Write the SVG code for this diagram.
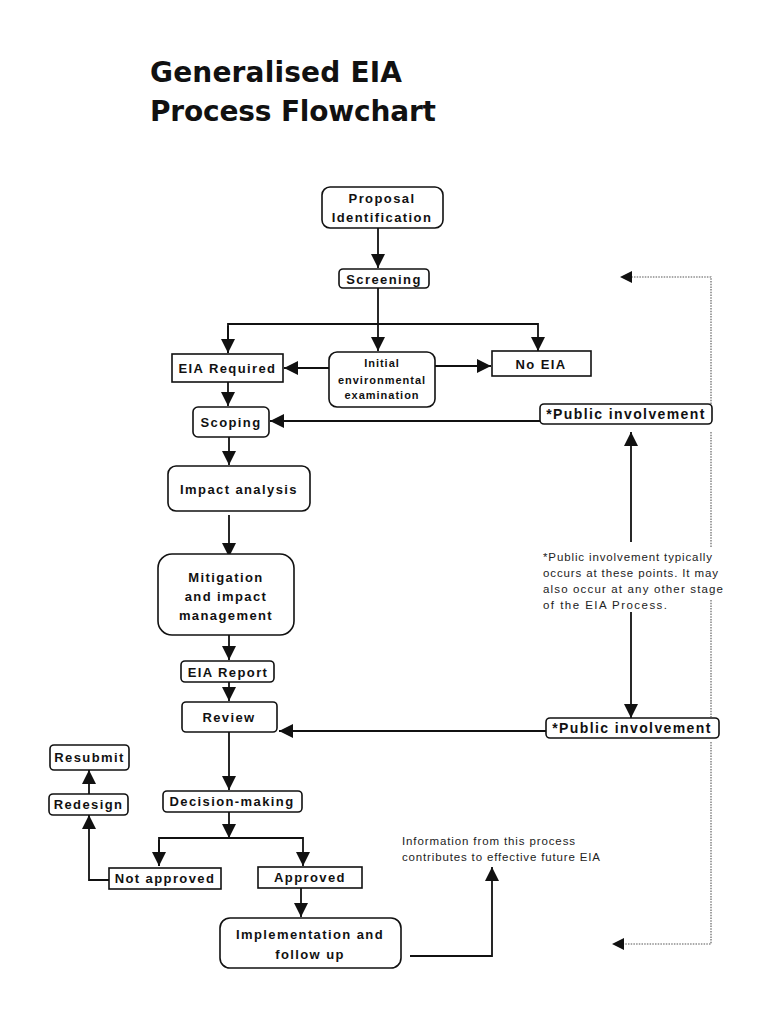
<svg xmlns="http://www.w3.org/2000/svg" width="768" height="1024" viewBox="0 0 768 1024">
<style>
.box{fill:#fff;stroke:#111;stroke-width:1.6}
.t{font-family:"Liberation Sans",Arial,sans-serif;font-weight:bold;font-size:13px;letter-spacing:1.4px;fill:#111;text-anchor:middle}
.ts{font-family:"Liberation Sans",Arial,sans-serif;font-weight:bold;font-size:11px;letter-spacing:1px;fill:#111;text-anchor:middle}
.note{font-family:"Liberation Sans",Arial,sans-serif;font-size:11.5px;fill:#222}
.title{font-family:"DejaVu Sans","Liberation Sans",sans-serif;font-weight:bold;font-size:28px;fill:#111}
.c{fill:none;stroke:#111;stroke-width:1.8}
.d{fill:none;stroke:#555;stroke-width:1.1;stroke-dasharray:1.5 1.2}
</style>
<defs>
<marker id="ah" markerUnits="userSpaceOnUse" markerWidth="14" markerHeight="14" viewBox="0 0 14 14" refX="14" refY="7" orient="auto">
<path d="M0,0 L14,7 L0,14 z" fill="#111"/>
</marker>
</defs>
<rect width="768" height="1024" fill="#fff"/>
<g id="title">
<text class="title" x="150" y="82" textLength="252" lengthAdjust="spacing">Generalised EIA</text>
<text class="title" x="150" y="121" textLength="286" lengthAdjust="spacing">Process Flowchart</text>
</g>
<g id="connectors">
<line class="c" x1="378" y1="228" x2="378" y2="268" marker-end="url(#ah)"/>
<line class="c" x1="378" y1="288" x2="378" y2="351" marker-end="url(#ah)"/>
<polyline class="c" points="228,353 228,324 538,324 538,351" marker-end="url(#ah)"/>
<line class="c" x1="228" y1="326" x2="228" y2="353" marker-end="url(#ah)"/>
<line class="c" x1="329" y1="368" x2="284" y2="368" marker-end="url(#ah)"/>
<line class="c" x1="435" y1="366" x2="491" y2="366" marker-end="url(#ah)"/>
<line class="c" x1="228" y1="382" x2="228" y2="406" marker-end="url(#ah)"/>
<line class="c" x1="540" y1="421" x2="270" y2="421" marker-end="url(#ah)"/>
<line class="c" x1="229" y1="437" x2="229" y2="465" marker-end="url(#ah)"/>
<line class="c" x1="229" y1="515" x2="229" y2="557" marker-end="url(#ah)"/>
<line class="c" x1="229" y1="635" x2="229" y2="660" marker-end="url(#ah)"/>
<line class="c" x1="229" y1="682" x2="229" y2="701" marker-end="url(#ah)"/>
<line class="c" x1="546" y1="731" x2="279" y2="731" marker-end="url(#ah)"/>
<line class="c" x1="229" y1="732" x2="229" y2="790" marker-end="url(#ah)"/>
<line class="c" x1="229" y1="812" x2="229" y2="838" marker-end="url(#ah)"/>
<polyline class="c" points="159,866 159,838 303,838 303,866" marker-end="url(#ah)"/>
<line class="c" x1="159" y1="840" x2="159" y2="866" marker-end="url(#ah)"/>
<polyline class="c" points="109,880 89,880 89,815" marker-end="url(#ah)"/>
<line class="c" x1="89" y1="794" x2="89" y2="770" marker-end="url(#ah)"/>
<line class="c" x1="301" y1="888" x2="301" y2="917" marker-end="url(#ah)"/>
<polyline class="c" points="410,956 492,956 492,867" marker-end="url(#ah)"/>
<line class="c" x1="631" y1="542" x2="631" y2="432" marker-end="url(#ah)"/>
<line class="c" x1="631" y1="612" x2="631" y2="718" marker-end="url(#ah)"/>
<polyline class="d" points="711,404 711,277 626,277"/>
<path d="M620,277 L632,271 L632,283 z" fill="#111"/>
<line class="d" x1="711" y1="432" x2="711" y2="547"/>
<line class="d" x1="711" y1="600" x2="711" y2="717"/>
<polyline class="d" points="711,742 711,944 618,944"/>
<path d="M612,944 L624,938 L624,950 z" fill="#111"/>
</g>
<g id="proposal"><rect class="box" x="322" y="187" width="121" height="41" rx="8"/><text class="t" x="382" y="203">Proposal</text><text class="t" x="382" y="222">Identification</text></g>
<g id="screening"><rect class="box" x="339" y="269" width="90" height="19" rx="4"/><text class="t" x="384" y="284">Screening</text></g>
<g id="eia-required"><rect class="box" x="172" y="354" width="111" height="28"/><text class="t" x="227.5" y="373">EIA Required</text></g>
<g id="initial"><rect class="box" x="329" y="352" width="106" height="55" rx="8"/><text class="ts" x="382" y="367">Initial</text><text class="ts" x="382" y="384">environmental</text><text class="ts" x="382" y="399">examination</text></g>
<g id="no-eia"><rect class="box" x="492" y="351" width="99" height="25"/><text class="t" x="541" y="369">No EIA</text></g>
<g id="scoping"><rect class="box" x="193" y="407" width="76" height="30" rx="5"/><text class="t" x="231" y="427">Scoping</text></g>
<g id="public1"><rect class="box" x="540" y="404" width="172" height="20" rx="4"/><text class="t" x="626" y="419" style="font-size:14px">*Public involvement</text></g>
<g id="impact"><rect class="box" x="168" y="466" width="142" height="45" rx="8"/><text class="t" x="239" y="494">Impact analysis</text></g>
<g id="mitigation"><rect class="box" x="158" y="554" width="136" height="81" rx="14"/><text class="t" x="226" y="582">Mitigation</text><text class="t" x="226" y="601">and impact</text><text class="t" x="226" y="620">management</text></g>
<g id="eia-report"><rect class="box" x="181" y="661" width="93" height="21" rx="4"/><text class="t" x="228" y="677">EIA Report</text></g>
<g id="review"><rect class="box" x="182" y="702" width="95" height="30" rx="4"/><text class="t" x="229" y="722">Review</text></g>
<g id="public2"><rect class="box" x="546" y="718" width="173" height="20" rx="4"/><text class="t" x="632" y="733" style="font-size:14px">*Public involvement</text></g>
<g id="note"><text class="note" x="543" y="561" textLength="169" lengthAdjust="spacing">*Public involvement typically</text><text class="note" x="543" y="577" textLength="175" lengthAdjust="spacing">occurs at these points. It may</text><text class="note" x="543" y="593" textLength="180" lengthAdjust="spacing">also occur at any other stage</text><text class="note" x="543" y="609" textLength="124" lengthAdjust="spacing">of the EIA Process.</text></g>
<g id="decision"><rect class="box" x="163" y="791" width="139" height="21" rx="4"/><text class="t" x="232" y="806">Decision-making</text></g>
<g id="not-approved"><rect class="box" x="109" y="868" width="112" height="21"/><text class="t" x="165" y="883">Not approved</text></g>
<g id="approved"><rect class="box" x="258" y="867" width="104" height="21"/><text class="t" x="310" y="882">Approved</text></g>
<g id="redesign"><rect class="box" x="49" y="794" width="79" height="21" rx="4"/><text class="t" x="88.5" y="809">Redesign</text></g>
<g id="resubmit"><rect class="box" x="50" y="745" width="79" height="25" rx="4"/><text class="t" x="89.5" y="762">Resubmit</text></g>
<g id="implementation"><rect class="box" x="220" y="918" width="181" height="50" rx="10"/><text class="t" x="310" y="939">Implementation and</text><text class="t" x="310" y="959">follow up</text></g>
<g id="info"><text class="note" x="402" y="845" textLength="173" lengthAdjust="spacing">Information from this process</text><text class="note" x="402" y="861" textLength="198" lengthAdjust="spacing">contributes to effective future EIA</text></g>
</svg>
